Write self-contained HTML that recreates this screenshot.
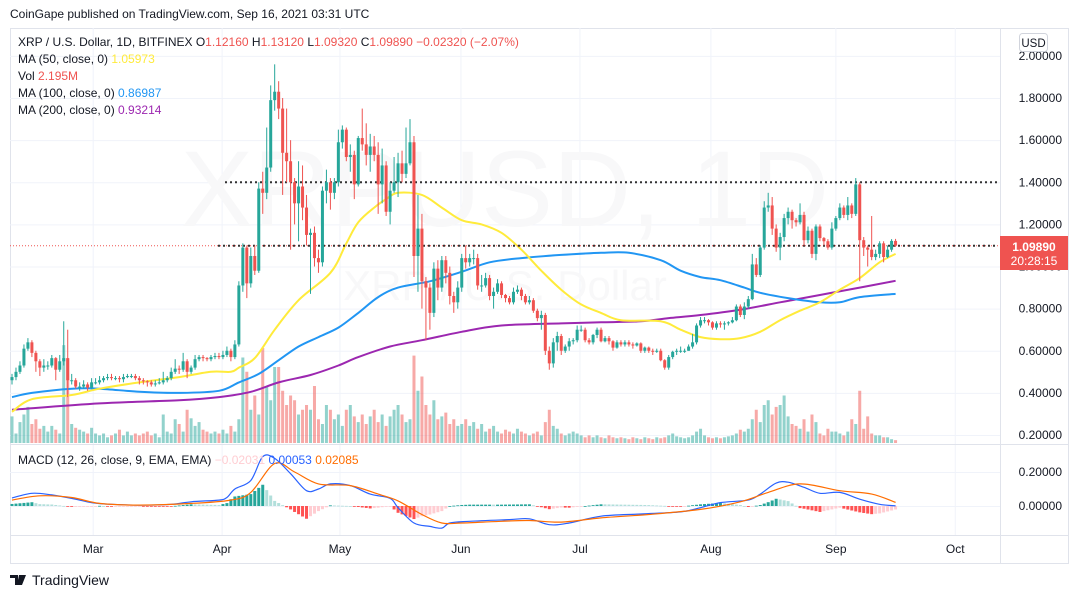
<!DOCTYPE html>
<html><head><meta charset="utf-8"><style>
html,body{margin:0;padding:0;background:#fff;width:1079px;height:598px;overflow:hidden;font-family:"Liberation Sans",sans-serif;}
svg text{font-family:"Liberation Sans",sans-serif;}
</style></head><body>
<svg id="chart" width="1079" height="598" viewBox="0 0 1079 598" xmlns="http://www.w3.org/2000/svg">
<rect x="0" y="0" width="1079" height="598" fill="#fff"/>
<text x="10" y="18" font-size="12" fill="#131722">CoinGape published on TradingView.com, Sep 16, 2021 03:31 UTC</text>
<rect x="10.5" y="28.5" width="1058" height="535" fill="none" stroke="#e0e3eb"/>
<g id="grid"></g>
<g>
<text x="505" y="226" font-size="108" fill="#f8f8f9" text-anchor="middle">XRPUSD, 1D</text>
<text x="505" y="300" font-size="42" fill="#f8f8f9" text-anchor="middle">XRP / U.S. Dollar</text>
</g>
<g id="vol"></g>
<g id="mas"></g>
<g id="levels"></g>
<g id="candles"></g>
<g id="macd"></g>
<line x1="10" y1="444.5" x2="1069" y2="444.5" stroke="#e0e3eb"/>
<line x1="10" y1="535.5" x2="1069" y2="535.5" stroke="#e0e3eb"/>
<line x1="1000.5" y1="28" x2="1000.5" y2="563" stroke="#e0e3eb"/>
<g id="axes"></g>
<g font-size="12">
<text x="18" y="46" fill="#131722">XRP / U.S. Dollar, 1D, BITFINEX <tspan fill="#131722">O</tspan><tspan fill="#ef5350">1.12160</tspan> <tspan fill="#131722">H</tspan><tspan fill="#ef5350">1.13120</tspan> <tspan fill="#131722">L</tspan><tspan fill="#ef5350">1.09320</tspan> <tspan fill="#131722">C</tspan><tspan fill="#ef5350">1.09890</tspan> <tspan fill="#ef5350">−0.02320 (−2.07%)</tspan></text>
<text x="18" y="63" fill="#131722">MA (50, close, 0) <tspan fill="#ffeb3b">1.05973</tspan></text>
<text x="18" y="80" fill="#131722">Vol <tspan fill="#ef5350">2.195M</tspan></text>
<text x="18" y="97" fill="#131722">MA (100, close, 0) <tspan fill="#2196f3">0.86987</tspan></text>
<text x="18" y="114" fill="#131722">MA (200, close, 0) <tspan fill="#9c27b0">0.93214</tspan></text>
<text x="18" y="464" fill="#131722">MACD (12, 26, close, 9, EMA, EMA) <tspan fill="#ffcdd2">−0.02031</tspan> <tspan fill="#2962ff">0.00053</tspan> <tspan fill="#ff6d00">0.02085</tspan></text>
</g>
<g>
<rect x="1019.5" y="33.5" width="28" height="18" rx="3" fill="#fff" stroke="#d1d4dc"/>
<text x="1033.5" y="47" font-size="11.5" fill="#131722" text-anchor="middle">USD</text>
</g>
<g>
<rect x="1000" y="236" width="68" height="34" fill="#ef5350"/>
<text x="1034" y="251" font-size="12" font-weight="bold" fill="#fff" text-anchor="middle">1.09890</text>
<text x="1034" y="265" font-size="12" fill="#fff" text-anchor="middle">20:28:15</text>
</g>
<g>
<path d="M10 575h8v10h-3v-7h-5z M19 575h3l-2 10h-3z M22 575h4l-4 10h-2z" fill="#131722"/>
<text x="32" y="585" font-size="14" fill="#131722">TradingView</text>
</g>
</svg>
<script>
const closes=[0.475,0.50,0.53,0.61,0.64,0.59,0.55,0.52,0.53,0.53,0.565,0.51,0.55,0.565,0.46,0.46,0.43,0.43,0.44,0.425,0.45,
0.45,0.46,0.47,0.475,0.47,0.47,0.465,0.475,0.48,0.48,0.47,0.46,0.455,0.45,0.44,0.445,0.45,0.46,0.47,0.50,0.515,0.51,0.55,0.50,0.52,0.56,0.57,0.565,0.56,0.57,0.575,0.57,0.58,
0.60,0.57,0.63,0.91,1.09,0.92,1.05,0.98,1.37,1.35,1.47,1.79,1.83,1.75,1.54,1.50,1.40,1.30,1.38,1.28,1.15,1.16,1.04,1.02,1.36,1.40,1.35,1.40,1.59,1.65,1.52,1.53,1.39,1.61,1.58,1.53,1.57,1.53,1.39,1.48,1.26,1.36,1.40,1.49,1.44,1.49,1.59,1.05,1.18,0.93,0.90,0.78,0.99,0.90,1.03,0.97,0.86,0.83,
0.90,1.04,1.02,1.04,1.04,0.91,0.91,0.945,0.86,0.88,0.92,0.865,0.85,0.83,0.88,0.89,0.86,0.83,0.84,0.79,0.755,0.77,0.60,0.54,0.64,0.67,0.60,0.62,0.645,0.65,0.70,0.70,0.65,0.64,0.675,0.70,0.645,0.66,0.645,0.615,0.64,0.63,0.64,0.63,0.625,0.635,0.60,0.615,0.60,0.595,0.60,0.555,0.52,0.57,0.595,
0.60,0.60,0.60,0.62,0.64,0.72,0.745,0.745,0.735,0.71,0.73,0.725,0.73,0.735,0.745,0.81,0.77,0.81,0.845,1.01,0.96,1.09,1.28,1.29,1.18,1.09,1.14,1.23,1.26,1.22,1.21,1.245,1.125,1.17,1.06,1.19,1.135,1.12,1.09,1.18,1.23,1.28,1.245,1.29,1.25,1.39,1.125,1.09,1.08,1.045,1.06,1.11,1.045,1.08,1.1216,1.0989];
const opens=[0.46,0.475,0.50,0.53,0.61,0.64,0.59,0.55,0.52,0.53,0.53,0.565,0.51,0.55,0.565,0.46,0.46,0.43,0.43,0.44,0.425,
0.45,0.45,0.46,0.47,0.475,0.47,0.47,0.465,0.475,0.48,0.48,0.47,0.46,0.455,0.45,0.44,0.445,0.45,0.46,0.47,0.50,0.515,0.51,0.55,0.50,0.52,0.56,0.57,0.565,0.56,0.57,0.575,0.57,
0.58,0.60,0.57,0.63,0.91,1.09,0.92,1.05,0.98,1.37,1.35,1.47,1.79,1.83,1.75,1.54,1.50,1.40,1.30,1.38,1.28,1.15,1.16,1.04,1.02,1.36,1.40,1.35,1.40,1.59,1.65,1.52,1.53,1.39,1.61,1.58,1.53,1.57,1.53,1.39,1.48,1.26,1.36,1.40,1.49,1.44,1.49,1.59,1.05,1.18,0.93,0.90,0.78,0.99,0.90,1.03,0.97,0.86,
0.83,0.90,1.04,1.02,1.04,1.04,0.91,0.91,0.945,0.86,0.88,0.92,0.865,0.85,0.83,0.88,0.89,0.86,0.83,0.84,0.79,0.755,0.77,0.60,0.54,0.64,0.67,0.60,0.62,0.645,0.65,0.70,0.70,0.65,0.64,0.675,0.70,0.645,0.66,0.645,0.615,0.64,0.63,0.64,0.63,0.625,0.635,0.60,0.615,0.60,0.595,0.60,0.555,0.52,0.57,
0.595,0.60,0.60,0.60,0.62,0.64,0.72,0.745,0.745,0.735,0.71,0.73,0.725,0.73,0.735,0.745,0.81,0.77,0.81,0.845,1.01,0.96,1.09,1.28,1.29,1.18,1.09,1.14,1.23,1.26,1.22,1.21,1.245,1.125,1.17,1.06,1.19,1.135,1.12,1.09,1.18,1.23,1.28,1.245,1.29,1.25,1.39,1.125,1.09,1.08,1.045,1.06,1.11,1.045,1.08,1.1216];
const highs=[0.49,0.52,0.55,0.63,0.66,0.65,0.60,0.56,0.56,0.55,0.58,0.57,0.58,0.74,0.70,0.49,0.47,0.45,0.46,0.45,0.47,
0.47,0.48,0.48,0.49,0.49,0.48,0.48,0.49,0.49,0.49,0.49,0.48,0.47,0.46,0.46,0.46,0.47,0.50,0.48,0.52,0.56,0.53,0.59,0.56,0.53,0.58,0.58,0.58,0.57,0.58,0.59,0.59,0.60,
0.62,0.61,0.65,0.93,1.11,1.10,1.09,1.10,1.40,1.45,1.66,1.86,1.96,1.88,1.80,1.75,1.60,1.42,1.50,1.48,1.34,1.18,1.19,1.08,1.38,1.46,1.42,1.42,1.65,1.67,1.66,1.58,1.55,1.62,1.75,1.68,1.63,1.62,1.59,1.56,1.50,1.40,1.52,1.54,1.55,1.66,1.70,1.62,1.34,1.25,0.95,0.92,1.02,1.03,1.05,1.05,1.00,0.88,
0.93,1.06,1.10,1.06,1.08,1.06,0.96,0.97,0.96,0.90,0.94,0.93,0.87,0.86,0.90,0.91,0.90,0.87,0.86,0.85,0.80,0.79,0.78,0.62,0.66,0.69,0.68,0.63,0.66,0.66,0.72,0.72,0.71,0.66,0.68,0.71,0.71,0.67,0.67,0.65,0.65,0.65,0.65,0.65,0.64,0.64,0.64,0.62,0.62,0.61,0.61,0.61,0.56,0.58,0.60,
0.61,0.62,0.61,0.63,0.68,0.73,0.76,0.76,0.75,0.74,0.74,0.74,0.74,0.74,0.76,0.82,0.82,0.83,0.86,1.06,1.04,1.10,1.31,1.35,1.33,1.20,1.16,1.25,1.28,1.27,1.23,1.30,1.26,1.19,1.18,1.20,1.20,1.14,1.13,1.21,1.24,1.30,1.29,1.33,1.30,1.42,1.40,1.14,1.10,1.24,1.08,1.12,1.12,1.10,1.13,1.1312];
const lows=[0.44,0.46,0.49,0.52,0.60,0.57,0.50,0.48,0.50,0.51,0.52,0.46,0.50,0.53,0.38,0.44,0.42,0.41,0.42,0.41,0.42,
0.44,0.44,0.45,0.46,0.46,0.46,0.45,0.45,0.47,0.47,0.46,0.44,0.44,0.43,0.43,0.43,0.44,0.44,0.45,0.46,0.49,0.49,0.50,0.47,0.49,0.51,0.55,0.55,0.55,0.55,0.56,0.56,0.56,
0.57,0.55,0.56,0.62,0.88,0.85,0.90,0.96,0.97,1.25,1.32,1.45,1.74,1.70,1.34,1.40,1.08,1.20,1.12,1.22,1.10,0.87,1.00,0.97,1.00,1.30,1.27,1.32,1.38,1.56,1.50,1.45,1.32,1.38,1.55,1.48,1.45,1.50,1.25,1.30,1.24,1.20,1.35,1.33,1.40,1.42,1.48,0.95,0.88,0.80,0.65,0.70,0.76,0.84,0.88,0.92,0.82,0.78,
0.80,0.88,0.99,1.00,1.01,0.89,0.88,0.90,0.84,0.80,0.87,0.85,0.83,0.82,0.82,0.87,0.84,0.82,0.82,0.78,0.74,0.70,0.58,0.51,0.52,0.60,0.58,0.59,0.60,0.63,0.64,0.69,0.64,0.63,0.63,0.66,0.64,0.64,0.63,0.60,0.61,0.62,0.62,0.62,0.61,0.62,0.59,0.59,0.59,0.58,0.59,0.55,0.51,0.51,0.56,
0.58,0.59,0.59,0.60,0.61,0.63,0.71,0.73,0.72,0.70,0.70,0.71,0.70,0.72,0.73,0.74,0.76,0.75,0.80,0.84,0.95,0.95,1.08,1.26,1.15,1.07,1.03,1.12,1.20,1.18,1.19,1.20,1.10,1.11,1.04,1.03,1.12,1.10,1.08,1.08,1.17,1.22,1.23,1.22,1.23,1.24,0.93,1.05,1.00,1.03,1.03,1.04,1.02,1.04,1.07,1.0932];
const volumes=[28,10,22,30,38,20,25,15,18,12,18,14,10,103,89,20,16,14,12,10,16,10,
8,10,6,8,10,14,8,12,8,10,8,10,12,8,10,6,30,12,10,25,20,12,35,26,18,22,14,12,10,12,10,14,10,
18,12,25,90,75,35,50,30,100,60,45,80,80,55,40,50,45,30,35,40,35,60,25,20,40,35,25,30,18,35,40,28,22,30,20,28,35,22,30,18,28,35,40,30,22,25,92,55,70,40,30,45,25,28,32,20,25,18,
20,25,18,22,15,20,12,15,18,12,10,14,12,10,15,12,10,8,10,12,8,22,35,18,15,10,8,10,12,10,8,6,8,6,8,6,5,8,6,5,6,5,4,6,5,4,6,5,4,6,5,6,8,10,7,
6,5,6,8,12,15,8,6,5,6,5,6,7,8,10,14,12,15,25,35,22,40,45,30,38,40,50,28,20,18,15,25,12,30,22,10,8,15,12,12,10,8,12,25,20,55,15,28,10,8,8,6,6,4,3];
const ma50Idx=[0,5,15,22,32,42,50,55,57,61,66,72,80,84,87,91,94,97,103,108,113,118,123,128,133,138,143,148,153,163,168,173,178,183,188,193,198,203,208,213,218,222];
const ma50Val=[0.31,0.37,0.39,0.42,0.45,0.475,0.50,0.50,0.52,0.565,0.70,0.84,0.97,1.11,1.21,1.28,1.32,1.35,1.34,1.28,1.22,1.20,1.16,1.08,0.98,0.89,0.82,0.78,0.745,0.74,0.70,0.665,0.655,0.66,0.69,0.745,0.79,0.83,0.89,0.945,1.02,1.06];
const ma100Idx=[0,5,15,22,32,42,52,57,62,67,72,77,82,87,92,97,105,113,120,128,138,148,155,163,168,173,178,184,188,195,203,208,213,222];
const ma100Val=[0.38,0.40,0.42,0.42,0.405,0.40,0.41,0.45,0.49,0.555,0.62,0.665,0.71,0.78,0.855,0.90,0.93,0.975,1.02,1.04,1.055,1.065,1.065,1.03,0.98,0.95,0.935,0.90,0.875,0.85,0.83,0.83,0.855,0.87];
const ma200Idx=[0,22,42,52,60,67,75,82,87,95,103,113,123,138,148,158,165,173,183,193,203,213,222];
const ma200Val=[0.32,0.35,0.365,0.38,0.405,0.45,0.485,0.53,0.57,0.62,0.65,0.69,0.72,0.73,0.735,0.74,0.755,0.77,0.795,0.83,0.865,0.90,0.932];
const macdIdx=[0,5,10,15,20,25,32,40,45,52,54,56,60,63,66,70,74,77,80,85,90,95,97,101,105,108,110,115,125,130,135,140,148,158,168,173,178,185,188,192,195,199,203,208,213,218,222];
const macdVal=[0.047,0.075,0.065,0.045,0.02,0.01,0.005,0.01,0.025,0.035,0.05,0.10,0.15,0.29,0.28,0.19,0.09,0.10,0.13,0.12,0.07,0.045,-0.01,-0.10,-0.12,-0.13,-0.10,-0.09,-0.08,-0.075,-0.11,-0.10,-0.06,-0.047,-0.035,-0.01,0.02,0.035,0.07,0.135,0.14,0.11,0.075,0.08,0.04,0.01,0.0005];
const sigIdx=[0,7,15,22,32,45,55,60,66,71,77,85,92,97,103,108,113,123,130,138,148,160,173,183,190,198,208,216,222];
const sigVal=[0.035,0.06,0.05,0.015,0.005,0.015,0.035,0.08,0.25,0.2,0.13,0.12,0.07,0.03,-0.05,-0.1,-0.1,-0.09,-0.085,-0.095,-0.07,-0.05,-0.02,0.025,0.08,0.13,0.09,0.07,0.021];
const priceTicks=[0.2,0.4,0.6,0.8,1.0,1.2,1.4,1.6,1.8,2.0];
const macdTicks=[0.0,0.2];
const monthLabels=["Mar","Apr","May","Jun","Jul","Aug","Sep","Oct"];
const monthIdx=[20.4,52.8,82.4,112.8,142.7,175.6,207,237];
const resistance=1.40;
const lastPrice=1.0989;

const NS="http://www.w3.org/2000/svg";
function xC(i){return 12+i*3.98;}
function yP(p){return 435-(p-0.2)*210.6;}
function yM(v){return 506-v*170;}
function yV(v){return 443-v*0.95;}
function mk(tag,attrs,parent){const e=document.createElementNS(NS,tag);for(const k in attrs)e.setAttribute(k,attrs[k]);parent.appendChild(e);return e;}
function interp(idx,val,i){if(i<=idx[0])return val[0];for(let k=1;k<idx.length;k++){if(i<=idx[k]){const t=(i-idx[k-1])/(idx[k]-idx[k-1]);return val[k-1]+t*(val[k]-val[k-1]);}}return val[val.length-1];}
function smoothPath(pts){let d="M"+pts[0][0].toFixed(1)+" "+pts[0][1].toFixed(1);for(let k=1;k<pts.length;k++){const p0=pts[k-2]||pts[k-1],p1=pts[k-1],p2=pts[k],p3=pts[k+1]||p2;const c1x=p1[0]+(p2[0]-p0[0])/6,c1y=p1[1]+(p2[1]-p0[1])/6,c2x=p2[0]-(p3[0]-p1[0])/6,c2y=p2[1]-(p3[1]-p1[1])/6;d+=" C"+c1x.toFixed(1)+" "+c1y.toFixed(1)+" "+c2x.toFixed(1)+" "+c2y.toFixed(1)+" "+p2[0].toFixed(1)+" "+p2[1].toFixed(1);}return d;}

const grid=document.getElementById('grid');
priceTicks.forEach(p=>{const l=mk('line',{x1:10,x2:1000,y1:yP(p)+0.5,y2:yP(p)+0.5,stroke:'#f0f3fa'},grid);

});
macdTicks.forEach(v=>{const l=mk('line',{x1:10,x2:1000,y1:yM(v)+0.5,y2:yM(v)+0.5,stroke:'#f0f3fa'},grid);

});
monthIdx.forEach(m=>{const l=mk('line',{x1:xC(m),x2:xC(m),y1:28,y2:535,stroke:'#f0f3fa'},grid);

});

const axes=document.getElementById('axes');
priceTicks.forEach(p=>{const t=mk('text',{x:1062,y:yP(p)+4,'font-size':12,fill:'#131722','text-anchor':'end'},axes);t.textContent=p.toFixed(5);

});
macdTicks.forEach(v=>{const t=mk('text',{x:1062,y:yM(v)+4,'font-size':12,fill:'#131722','text-anchor':'end'},axes);t.textContent=v.toFixed(5);

});
monthLabels.forEach((m,k)=>{const t=mk('text',{x:xC(monthIdx[k]),y:553,'font-size':12,fill:'#131722','text-anchor':'middle'},axes);t.textContent=m;

});

const vol=document.getElementById('vol');
volumes.forEach((v,i)=>{const up=closes[i]>=opens[i];const r=mk('rect',{x:xC(i)-1.5,y:yV(v),width:3,height:443-yV(v),fill:up?'#26a69a':'#ef5350','fill-opacity':0.5},vol);

});

const mas=document.getElementById('mas');
[[ma200Idx,ma200Val,'#9c27b0','ma200-line'],[ma100Idx,ma100Val,'#2196f3','ma100-line'],[ma50Idx,ma50Val,'#ffeb3b','ma50-line']].forEach(s=>{
const pts=s[0].map((ix,k)=>[xC(ix),yP(s[1][k])]);
const p=mk('path',{d:smoothPath(pts),fill:'none',stroke:s[2],'stroke-width':2},mas);

});

const lv=document.getElementById('levels');
const rl=mk('line',{x1:10,x2:1000,y1:yP(lastPrice),y2:yP(lastPrice),stroke:'#ef5350','stroke-width':1,'stroke-dasharray':'1 2'},lv);


const s1=mk('line',{x1:218,x2:998,y1:yP(lastPrice),y2:yP(lastPrice),stroke:'#333','stroke-width':2,'stroke-dasharray':'2 3'},lv);


const r1=mk('line',{x1:225,x2:998,y1:yP(resistance),y2:yP(resistance),stroke:'#333','stroke-width':2,'stroke-dasharray':'2 3'},lv);



const cg=document.getElementById('candles');
closes.forEach((c,i)=>{const o=opens[i];const up=c>=o;const col=up?'#26a69a':'#ef5350';const x=xC(i);
const w=mk('line',{x1:x,x2:x,y1:yP(highs[i]),y2:yP(lows[i]),stroke:col,'stroke-width':1},cg);


const top=yP(Math.max(o,c)),bot=yP(Math.min(o,c));
const b=mk('rect',{x:x-1.5,y:top,width:3,height:Math.max(1,bot-top),fill:col},cg);

});

const mg=document.getElementById('macd');
let prevH=0;
for(let i=0;i<closes.length;i++){const h=interp(macdIdx,macdVal,i)-interp(sigIdx,sigVal,i);
let col;if(h>=0)col=h>=prevH?'#26a69a':'#b2dfdb';else col=h<prevH?'#ff5252':'#ffcdd2';prevH=h;
const y0=yM(0),y1=yM(h);
const r=mk('rect',{x:xC(i)-1.5,y:Math.min(y0,y1),width:3,height:Math.max(0.8,Math.abs(y1-y0)),fill:col},mg);

}
const mp=mk('path',{d:smoothPath(macdIdx.map((ix,k)=>[xC(ix),yM(macdVal[k])])),fill:'none',stroke:'#2962ff','stroke-width':1.2},mg);


const sp=mk('path',{d:smoothPath(sigIdx.map((ix,k)=>[xC(ix),yM(sigVal[k])])),fill:'none',stroke:'#ff6d00','stroke-width':1.2},mg);


</script>
</body></html>
